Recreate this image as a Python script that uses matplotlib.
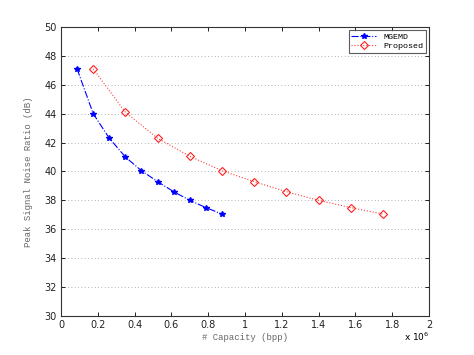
import matplotlib.pyplot as plt
from matplotlib.ticker import FuncFormatter

# capacity in bits, PSNR in dB
mgemd_capacity = [0.0875e6, 0.175e6, 0.2625e6, 0.35e6, 0.4375e6,
                  0.525e6, 0.6125e6, 0.70e6, 0.7875e6, 0.875e6]
mgemd_psnr = [47.1, 44.0, 42.3, 41.0, 40.05, 39.3, 38.6, 38.0, 37.5, 37.05]

proposed_capacity = [0.175e6, 0.35e6, 0.525e6, 0.70e6, 0.875e6,
                     1.05e6, 1.225e6, 1.40e6, 1.575e6, 1.75e6]
proposed_psnr = [47.1, 44.1, 42.3, 41.05, 40.05, 39.3, 38.6, 38.0, 37.5, 37.05]

x_ticks = [0, 0.2e6, 0.4e6, 0.6e6, 0.8e6, 1.0e6, 1.2e6, 1.4e6, 1.6e6, 1.8e6, 2.0e6]
y_ticks = list(range(30, 51, 2))

fig = plt.figure(figsize=(4.74, 3.55), dpi=100)
ax = fig.add_axes([0.1287, 0.110, 0.7763, 0.814])

ax.plot(mgemd_capacity, mgemd_psnr, color="#0000ff", ls="-.", lw=0.8,
        marker="*", ms=4, label="MGEMD")
ax.plot(proposed_capacity, proposed_psnr, color="#ff4040", ls=":", lw=0.8,
        marker="D", ms=4.5, mfc="none", mec="#ff2020", mew=0.8, label="Proposed")

ax.set_xlim(0, 2e6)
ax.set_ylim(30, 50)
ax.set_xticks(x_ticks)
ax.set_yticks(y_ticks)
ax.xaxis.set_major_formatter(FuncFormatter(lambda v, _: f"{v / 1e6:g}"))
ax.tick_params(direction="in", top=True, right=True, labelsize=7,
               length=3, width=0.6, pad=3, labelcolor="#222222")
ax.grid(True, axis="y", ls=(0, (1, 3)), lw=0.6, color="#999999")
for s in ax.spines.values():
    s.set_linewidth(0.8)
    s.set_color("#333333")

mono = "Liberation Mono"
ax.set_xlabel("# Capacity (bpp)", family=mono, fontsize=6.5, color="#666666",
              labelpad=2)
ax.set_ylabel("Peak Signal Noise Ratio (dB)", family=mono, fontsize=6.5,
              color="#666666", labelpad=8)
fig.text(0.905, 0.068, r"x 10$^6$", ha="right", va="top", fontsize=6.5)

leg = ax.legend(loc="upper right", prop={"family": mono, "size": 6},
                frameon=True, fancybox=False, borderpad=0.3,
                handlelength=3.0, labelspacing=0.2, borderaxespad=0.4)
leg.get_frame().set_edgecolor("#333333")
leg.get_frame().set_linewidth(0.8)

fig.savefig("out.png", dpi=100)
